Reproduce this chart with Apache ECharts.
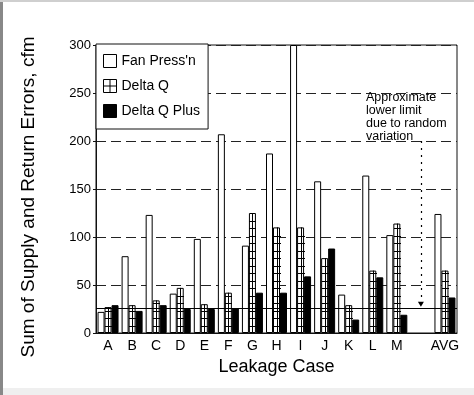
<!DOCTYPE html>
<html>
<head>
<meta charset="utf-8">
<script src="https://cdn.jsdelivr.net/npm/echarts@6/dist/echarts.min.js"></script>
<style>
  html, body { margin: 0; padding: 0; background: #fff; }
  #chart { width: 474px; height: 395px; }
</style>
</head>
<body>
<div id="chart"></div>
<script>
// leakage cases (blank slot between M and AVG)
const categories = ['A', 'B', 'C', 'D', 'E', 'F', 'G', 'H', 'I', 'J', 'K', 'L', 'M', '', 'AVG']
const fanPress = [22, 80, 123, 41, 98, 207, 91, 187, 300, 158, 40, 164, 102, null, 124]
const deltaQ = [27, 29, 34, 47, 30, 42, 125, 110, 110, 78, 29, 65, 114, null, 65]
const deltaQPlus = [29, 23, 29, 25, 25, 26, 42, 42, 59, 88, 14, 58, 19, null, 37]
const yTicks = [0, 50, 100, 150, 200, 250, 300]
const lowerLimit = 25.5

const font = '"Liberation Sans", Arial, Helvetica, sans-serif'
const chart = echarts.init(document.getElementById('chart'))

// ladder hatch for the Delta Q bars (middle bar sits on the category centre)
const renderHatch = (params, api) => {
  const v = api.value(1)
  if (v == null || isNaN(v)) return
  const top = api.coord([api.value(0), v])
  const bottom = api.coord([api.value(0), 0])
  const cx = Math.round(top[0]) + 0.5
  const half = 3.5
  const children = [{
    type: 'line',
    shape: { x1: cx, y1: top[1], x2: cx, y2: bottom[1] },
    style: { stroke: '#000', lineWidth: 1 }
  }]
  for (let y = bottom[1] - 7.5; y > top[1] + 2; y -= 7.5) {
    const yy = Math.round(y) + 0.5
    children.push({
      type: 'line',
      shape: { x1: cx - half, y1: yy, x2: cx + half, y2: yy },
      style: { stroke: '#000', lineWidth: 1 }
    })
  }
  return { type: 'group', children }
}

const option = {
  animation: false,
  textStyle: { fontFamily: font, color: '#000' },
  grid: {
    left: 96, right: 17, top: 45, bottom: 62,
    show: true, borderColor: '#111', borderWidth: 1
  },
  legend: {
    orient: 'vertical',
    left: 96, top: 44,
    backgroundColor: '#fff',
    borderColor: '#111', borderWidth: 1,
    padding: [10, 8, 11, 7],
    itemWidth: 13, itemHeight: 13, itemGap: 11,
    textStyle: { fontFamily: font, fontSize: 14, color: '#000', lineHeight: 13 },
    data: [
      { name: "Fan Press'n", icon: 'rect', itemStyle: { color: '#fff', borderColor: '#000', borderWidth: 1 } },
      { name: 'Delta Q', icon: 'path://M0,0H12V12H0Z M0,6H12 M6,0V12', itemStyle: { color: '#fff', borderColor: '#000', borderWidth: 1 } },
      { name: 'Delta Q Plus', icon: 'rect', itemStyle: { color: '#000', borderColor: '#000', borderWidth: 1 } }
    ]
  },
  xAxis: {
    type: 'category',
    data: categories,
    name: 'Leakage Case',
    nameLocation: 'middle',
    nameGap: 21,
    nameTextStyle: { fontFamily: font, fontSize: 18, color: '#000' },
    axisLine: { lineStyle: { color: '#111' } },
    axisTick: { show: false },
    axisLabel: { fontFamily: font, fontSize: 14, color: '#000', margin: 6, interval: 0 }
  },
  yAxis: {
    type: 'value',
    min: yTicks[0], max: yTicks[yTicks.length - 1], interval: 50,
    name: 'Sum of Supply and Return Errors, cfm',
    nameLocation: 'middle',
    nameGap: 58,
    nameTextStyle: { fontFamily: font, fontSize: 19, color: '#000', padding: [0, 16, 0, 0] },
    axisLine: { show: true, lineStyle: { color: '#111' } },
    axisTick: { show: true, length: 3, lineStyle: { color: '#111' } },
    axisLabel: { fontFamily: font, fontSize: 13, color: '#000', margin: 5 },
    splitLine: { lineStyle: { color: '#222', type: [10, 5], width: 1 } }
  },
  series: [
    {
      name: "Fan Press'n",
      type: 'bar',
      data: fanPress,
      barWidth: 7,
      barGap: '0%',
      itemStyle: { color: '#fff', borderColor: '#000', borderWidth: 1 }
    },
    {
      name: 'Delta Q',
      type: 'bar',
      data: deltaQ,
      barWidth: 7,
      barGap: '0%',
      itemStyle: { color: '#fff', borderColor: '#000', borderWidth: 1 }
    },
    {
      name: 'Delta Q Plus',
      type: 'bar',
      data: deltaQPlus,
      barWidth: 7,
      barGap: '0%',
      itemStyle: { color: '#000', borderColor: '#000', borderWidth: 1 }
    },
    {
      name: 'hatch',
      type: 'custom',
      z: 3,
      renderItem: renderHatch,
      data: deltaQ.map((v, i) => [i, v]),
      markLine: {
        silent: true,
        animation: false,
        label: { show: false },
        data: [
          // approximate lower limit
          [
            { coord: [0, lowerLimit], x: 96, symbol: 'none' },
            { coord: [14, lowerLimit], x: 457, symbol: 'none' }
          ],
          // dotted arrow from the note down to the limit
          [
            { coord: [12.85, 200], symbol: 'none', lineStyle: { type: [2, 5], width: 1.2, color: '#000' } },
            { coord: [12.85, 30], symbol: 'triangle', symbolSize: [6, 5], symbolRotate: 180 }
          ]
        ],
        lineStyle: { color: '#000', type: 'solid', width: 1 }
      }
    }
  ],
  graphic: [
    {
      type: 'text',
      left: 366, top: 91,
      z: 10,
      style: {
        text: 'Approximate\nlower limit\ndue to random\nvariation',
        font: '12.5px ' + font,
        fill: '#000',
        lineHeight: 13
      }
    },
    // scanned-page edges
    { type: 'rect', left: 0, top: 0, shape: { width: 3, height: 395 }, style: { fill: '#888' } },
    { type: 'rect', left: 0, top: 0, shape: { width: 474, height: 2 }, style: { fill: '#cfcfcf' } },
    { type: 'rect', left: 3, top: 388, shape: { width: 471, height: 7 }, style: { fill: '#efefef' } }
  ]
}

chart.setOption(option)
</script>
</body>
</html>
